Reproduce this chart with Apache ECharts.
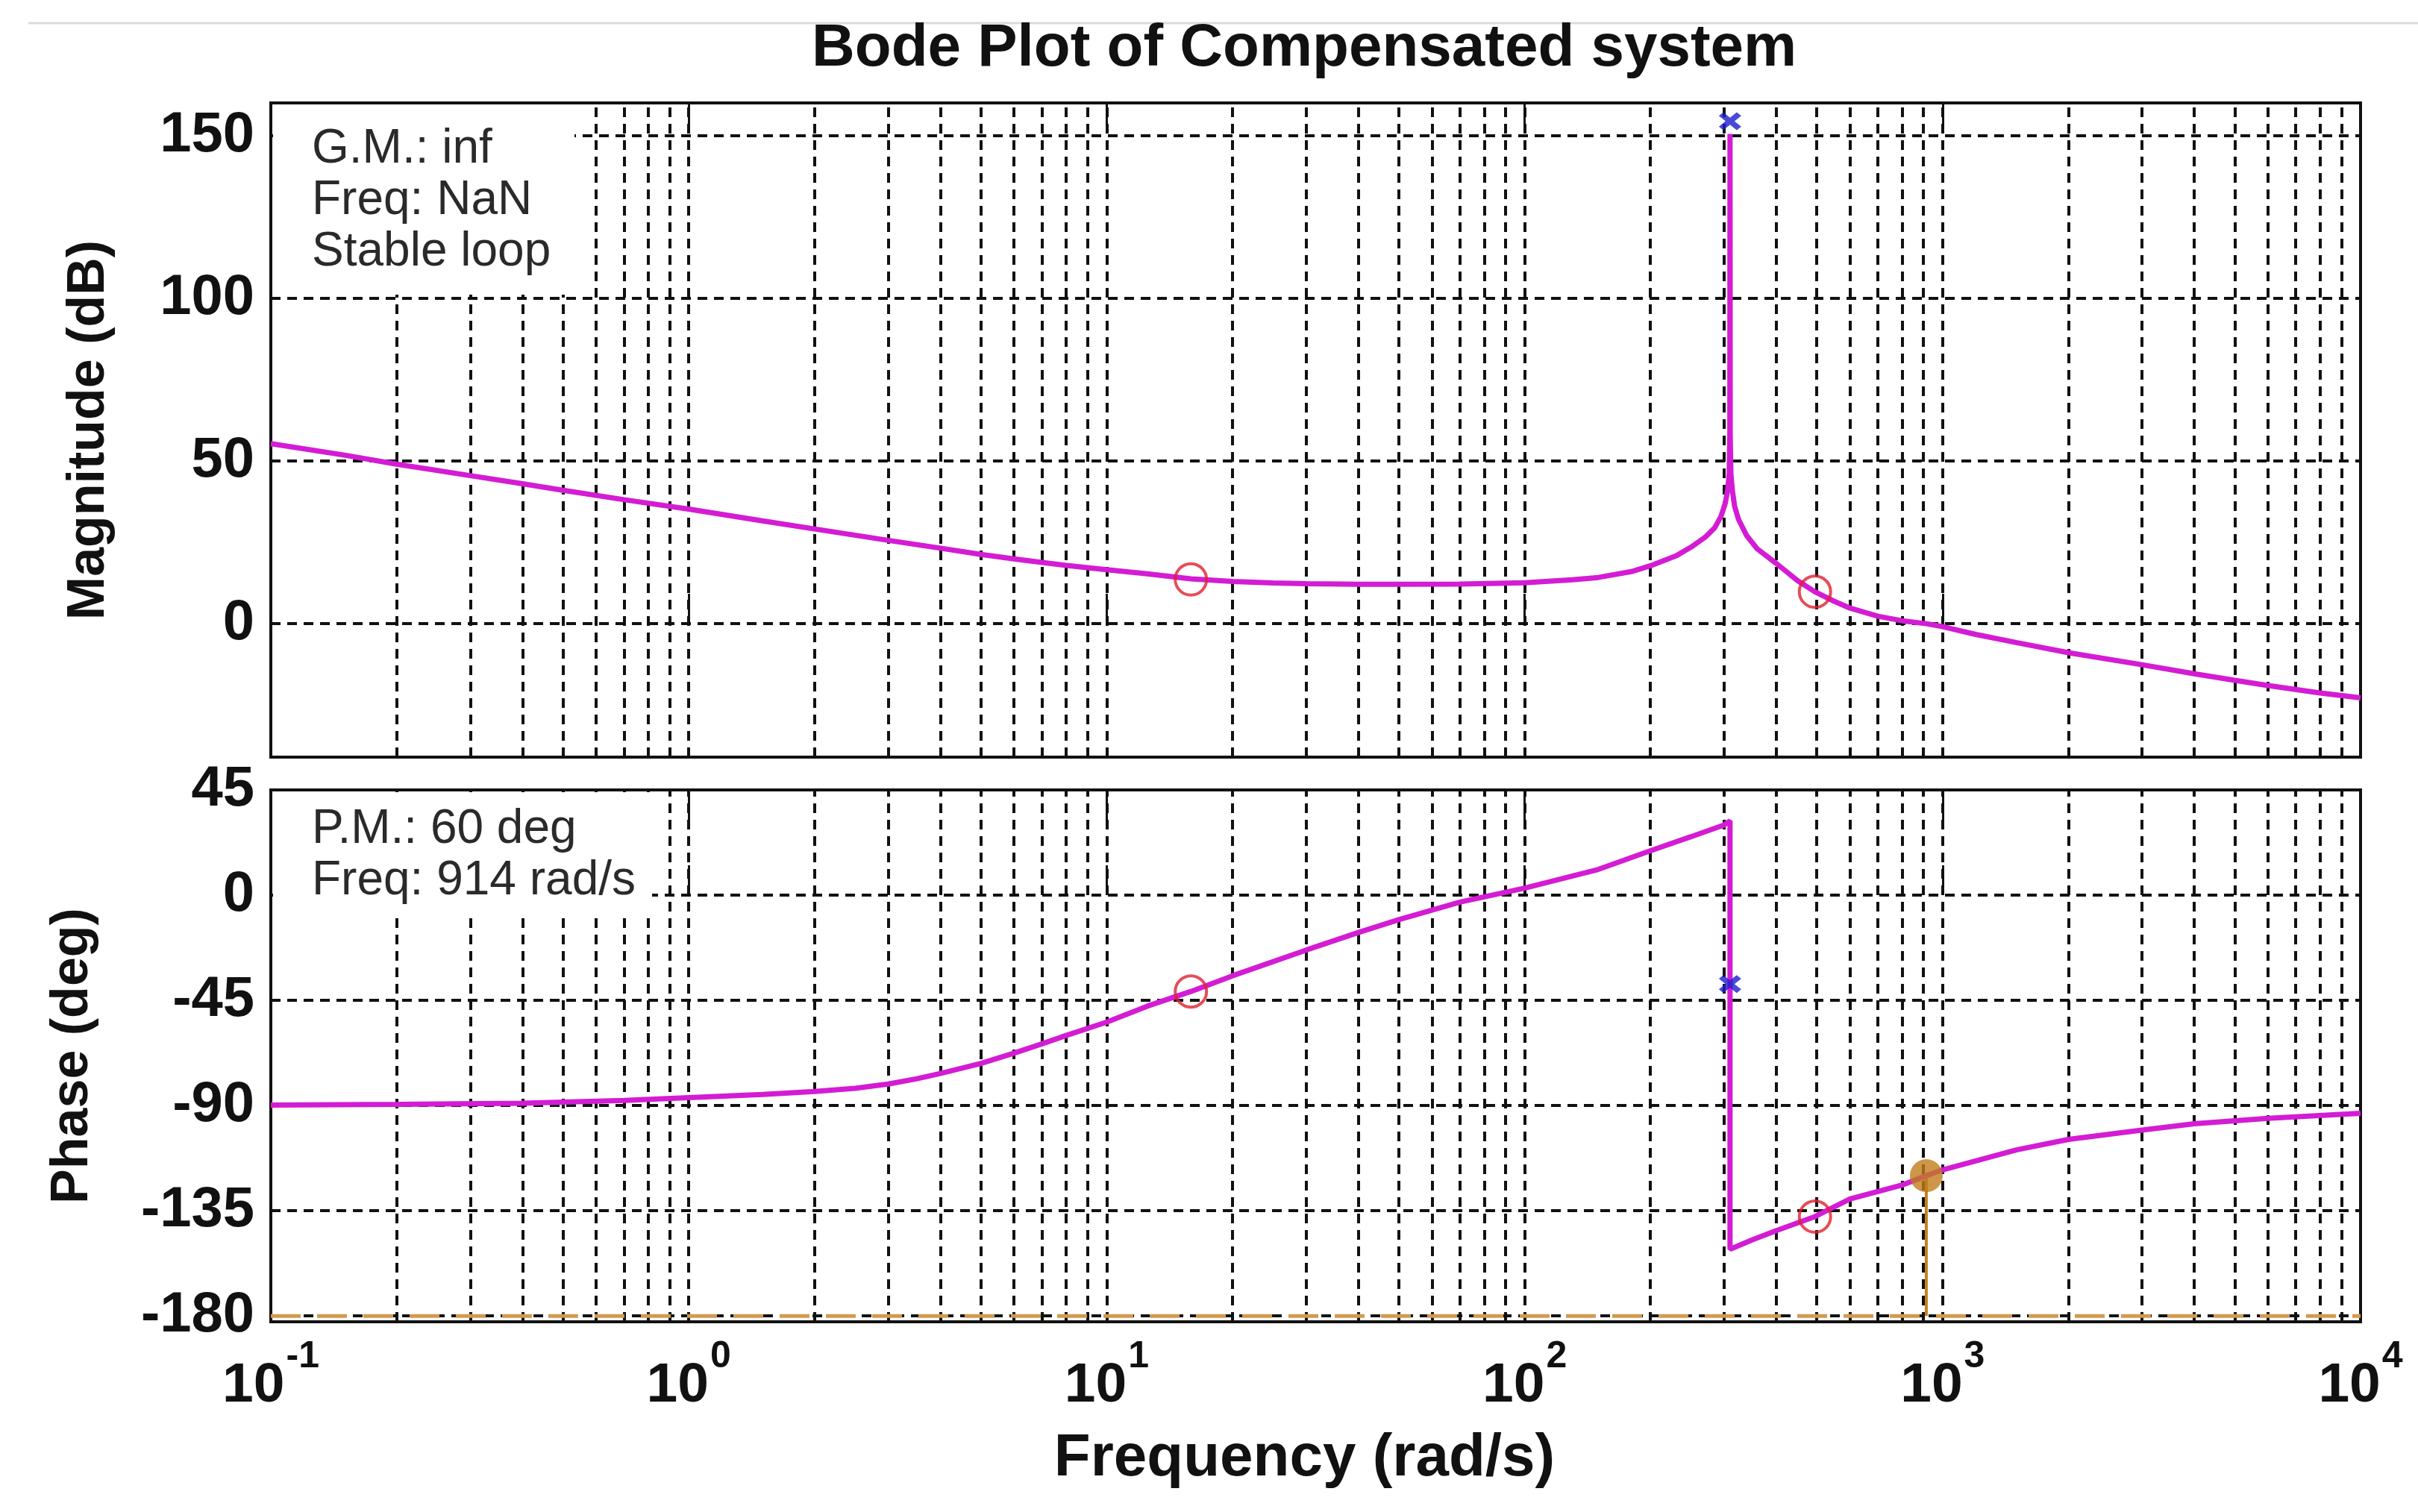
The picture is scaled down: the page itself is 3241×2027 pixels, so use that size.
<!DOCTYPE html>
<html><head><meta charset="utf-8">
<script src="https://cdn.jsdelivr.net/npm/echarts@6/dist/echarts.min.js"></script>
<style>html,body{margin:0;padding:0;background:#fff;}#chart{width:3241px;height:2027px;}</style>
</head><body><div id="chart"></div>
<script>
// ---- data ----
const magFreq = [0.1, 0.15, 0.2, 0.3, 0.4, 0.5, 0.7, 1, 1.5, 2, 3, 4, 5, 6, 7, 8, 10, 12.5, 15.9, 20, 25, 30, 40, 50, 70, 100, 130, 150, 180, 200, 230, 250, 270, 285, 295, 302, 306, 308.5, 309.7, 310, 310.3, 311.5, 314, 318, 325, 340, 360, 400, 450, 495, 550, 600, 700, 800, 914, 1000, 1200, 1500, 2000, 3000, 4000, 5000, 6000, 8000, 10000];
const magDb = [55.3, 51.8, 49.0, 45.5, 43.0, 41.0, 38.1, 35.2, 31.6, 29.1, 25.6, 23.2, 21.3, 19.9, 18.8, 17.9, 16.6, 15.3, 13.8, 13.0, 12.5, 12.3, 12.1, 12.1, 12.2, 12.6, 13.5, 14.2, 16.0, 17.8, 20.8, 23.5, 26.5, 29.5, 33.0, 37.0, 41.0, 46.0, 58.0, 150.5, 58.0, 46.0, 41.0, 36.0, 32.0, 27.0, 23.0, 18.5, 13.2, 9.8, 6.9, 4.8, 2.3, 0.9, 0.0, -0.9, -3.3, -5.8, -8.9, -12.6, -15.4, -17.4, -19.0, -21.3, -22.8];
const phaseFreq = [0.1, 0.2, 0.4, 0.7, 1, 1.5, 2, 2.5, 3, 3.5, 4, 5, 6, 7, 8, 10, 12.5, 15.9, 20, 30, 40, 50, 70, 100, 150, 200, 250, 300, 310, 310, 350, 400, 495, 600, 800, 914, 1000, 1500, 2000, 3000, 4000, 6000, 10000];
const phaseDeg = [-89.8, -89.5, -89.0, -87.8, -86.6, -85.3, -84.0, -82.6, -80.8, -78.6, -76.3, -72.0, -67.6, -63.6, -60.0, -54.3, -47.5, -41.2, -34.5, -23.5, -16.0, -10.5, -3.0, 3.0, 11.0, 19.0, 25.0, 30.0, 31.8, -151.5, -147.5, -143.5, -137.5, -130.0, -124.0, -120.0, -117.5, -109.0, -104.5, -100.5, -97.8, -95.5, -93.3];
const circleFreq = [15.9, 495];
const circleMag = [13.6, 9.8];
const circlePhase = [-41.2, -137.5];
const peakFreq = [310];
const peakMag = [154.4];
const peakPhase = [-38];
const pmFreq = [914];
const pmPhase = [-120];
const refPhase = -180;
const gridFreqs = [0.2,0.3,0.4,0.5,0.6,0.7,0.8,0.9,1,2,3,4,5,6,7,8,9,10,20,30,40,50,60,70,80,90,100,200,300,400,500,600,700,800,900,1000,2000,3000,4000,5000,6000,7000,8000,9000];
const magTicks = [0, 50, 100, 150];
const phaseTicks = [-180, -135, -90, -45, 0];
const titleText = 'Bode Plot of Compensated system';
const magName = 'Magnitude (dB)';
const phaseName = 'Phase (deg)';
const freqName = 'Frequency (rad/s)';
const magNotes = ['G.M.: inf', 'Freq: NaN', 'Stable loop'];
const phaseNotes = ['P.M.: 60 deg', 'Freq: 914 rad/s'];

// ---- styles ----
const MAGENTA = '#d41cd4';
const FONT = 'Liberation Sans';
const gridLineStyle = {color: '#111', width: 4, type: [13, 9]};

function pairs(xs, ys) { return xs.map((x, i) => [x, ys[i]]); }
function gridMarks(yVals) {
  return {
    silent: true, symbol: ['none', 'none'], animation: false, z: 1,
    label: {show: false},
    lineStyle: gridLineStyle,
    emphasis: {disabled: true},
    data: gridFreqs.map(f => ({xAxis: f})).concat(yVals.map(v => ({yAxis: v})))
  };
}
function tickFmt(step) {
  return function (v) {
    const r = Math.round(v);
    return (Math.abs(v - r) < 1e-6 && r % step === 0) ? String(r) : '';
  };
}
const yLabel = {fontFamily: FONT, fontWeight: 'bold', fontSize: 76, color: '#111', margin: 22};
const yName = {fontFamily: FONT, fontWeight: 'bold', fontSize: 70, color: '#111'};

const chart = echarts.init(document.getElementById('chart'), null, {renderer: 'canvas'});
const xCommon = {type: 'log', logBase: 10, min: 0.1, max: 10000, axisLine: {show: false},
  axisTick: {show: true, inside: true, length: 40, lineStyle: {color: '#111', width: 3}}, splitLine: {show: false}};
const noteFont = '64px "Liberation Sans"';
const overlays = [
  {type: 'line', shape: {x1: 38, y1: 31, x2: 3241, y2: 31}, style: {stroke: '#dadada', lineWidth: 3}},
  {type: 'rect', z: 40, shape: {x: 366, y: 141, width: 404, height: 254}, style: {fill: '#fff'}},
  {type: 'rect', z: 40, shape: {x: 366, y: 1062, width: 508, height: 164}, style: {fill: '#fff'}}
];
magNotes.forEach((t, i) => overlays.push({type: 'text', x: 418, y: 200 + i * 69, z: 50,
  style: {text: t, font: noteFont, fill: '#2a2a2a', verticalAlign: 'middle'}}));
phaseNotes.forEach((t, i) => overlays.push({type: 'text', x: 418, y: 1112 + i * 69, z: 50,
  style: {text: t, font: noteFont, fill: '#2a2a2a', verticalAlign: 'middle'}}));

chart.setOption({
  animation: false,
  backgroundColor: '#fff',
  title: {text: titleText, left: 1088, top: 26, padding: 0,
    textStyle: {fontFamily: FONT, fontWeight: 'bold', fontSize: 80, color: '#111'}},
  graphic: overlays,
  grid: [
    {left: 363, top: 138, width: 2801, height: 877, show: true, borderColor: '#111', borderWidth: 4, backgroundColor: 'transparent'},
    {left: 363, top: 1059, width: 2801, height: 713, show: true, borderColor: '#111', borderWidth: 4, backgroundColor: 'transparent'}
  ],
  xAxis: [
    Object.assign({}, xCommon, {gridIndex: 0, position: 'bottom', axisLabel: {show: false}}),
    Object.assign({}, xCommon, {gridIndex: 1, position: 'bottom',
      axisLabel: {margin: 49,
        formatter: v => '{b|10}{s|' + Math.round(Math.log10(v)) + '}',
        rich: {
          b: {fontFamily: FONT, fontWeight: 'bold', fontSize: 75, lineHeight: 75, color: '#111', verticalAlign: 'bottom'},
          s: {fontFamily: FONT, fontWeight: 'bold', fontSize: 50, lineHeight: 50, color: '#111', verticalAlign: 'bottom', padding: [0, 0, 52, 2]}
        }},
      name: freqName, nameLocation: 'middle', nameGap: 144,
      nameTextStyle: {fontFamily: FONT, fontWeight: 'bold', fontSize: 80, color: '#111', padding: [0, 30, 0, 0]}}),
    Object.assign({}, xCommon, {gridIndex: 0, position: 'top', axisLabel: {show: false}}),
    Object.assign({}, xCommon, {gridIndex: 1, position: 'top', axisLabel: {show: false}})
  ],
  yAxis: [
    {type: 'value', gridIndex: 0, min: -41, max: 160, interval: 1,
      axisLine: {show: false}, axisTick: {show: false}, splitLine: {show: false},
      axisLabel: Object.assign({formatter: tickFmt(50)}, yLabel),
      name: magName, nameLocation: 'middle', nameRotate: 90, nameGap: 208, nameTextStyle: yName},
    {type: 'value', gridIndex: 1, min: -182.5, max: 45, interval: 2.5,
      axisLine: {show: false}, axisTick: {show: false}, splitLine: {show: false},
      axisLabel: Object.assign({formatter: tickFmt(45)}, yLabel),
      name: phaseName, nameLocation: 'middle', nameRotate: 90, nameGap: 230, nameTextStyle: yName}
  ],
  series: [
    {name: 'gridMag', type: 'line', xAxisIndex: 0, yAxisIndex: 0, z: 1, silent: true,
      data: [[0.1, 0]], showSymbol: false, lineStyle: {opacity: 0}, markLine: gridMarks(magTicks)},
    {name: 'gridPhase', type: 'line', xAxisIndex: 1, yAxisIndex: 1, z: 1, silent: true,
      data: [[0.1, 0]], showSymbol: false, lineStyle: {opacity: 0}, markLine: gridMarks(phaseTicks)},
    {name: 'ref180', type: 'line', xAxisIndex: 1, yAxisIndex: 1, z: 3, showSymbol: false,
      data: [[0.1, refPhase], [10000, refPhase]], lineStyle: {color: '#d19a4f', width: 5, type: [40, 22]}},
    {name: 'magnitude', type: 'line', xAxisIndex: 0, yAxisIndex: 0, z: 5, showSymbol: false,
      data: pairs(magFreq, magDb), lineStyle: {color: MAGENTA, width: 7}},
    {name: 'phase', type: 'line', xAxisIndex: 1, yAxisIndex: 1, z: 5, showSymbol: false,
      data: pairs(phaseFreq, phaseDeg), lineStyle: {color: MAGENTA, width: 7}},
    {name: 'pmLine', type: 'line', xAxisIndex: 1, yAxisIndex: 1, z: 4, showSymbol: false,
      data: [[pmFreq[0], pmPhase[0]], [pmFreq[0], refPhase]], lineStyle: {color: '#c3801f', width: 4}},
    {name: 'circlesMag', type: 'scatter', xAxisIndex: 0, yAxisIndex: 0, z: 6, symbol: 'circle', symbolSize: 42,
      data: pairs(circleFreq, circleMag), itemStyle: {color: 'rgba(0,0,0,0)', borderColor: '#e0202e', borderWidth: 4}},
    {name: 'circlesPhase', type: 'scatter', xAxisIndex: 1, yAxisIndex: 1, z: 6, symbol: 'circle', symbolSize: 42,
      data: pairs(circleFreq, circlePhase), itemStyle: {color: 'rgba(0,0,0,0)', borderColor: '#e0202e', borderWidth: 4}},
    {name: 'peakMag', type: 'scatter', xAxisIndex: 0, yAxisIndex: 0, z: 7,
      symbol: 'path://M0,2L2,0L5,3L8,0L10,2L7,5L10,8L8,10L5,7L2,10L0,8L3,5Z', symbolSize: [30, 24],
      data: pairs(peakFreq, peakMag), itemStyle: {color: '#1c1cd0'}},
    {name: 'peakPhase', type: 'scatter', xAxisIndex: 1, yAxisIndex: 1, z: 7,
      symbol: 'path://M0,2L2,0L5,3L8,0L10,2L7,5L10,8L8,10L5,7L2,10L0,8L3,5Z', symbolSize: [30, 24],
      data: pairs(peakFreq, peakPhase), itemStyle: {color: '#1c1cd0'}},
    {name: 'pmPoint', type: 'scatter', xAxisIndex: 1, yAxisIndex: 1, z: 8, symbol: 'circle', symbolSize: 44,
      data: pairs(pmFreq, pmPhase), itemStyle: {color: '#c07c1c'}}
  ]
});
</script></body></html>
